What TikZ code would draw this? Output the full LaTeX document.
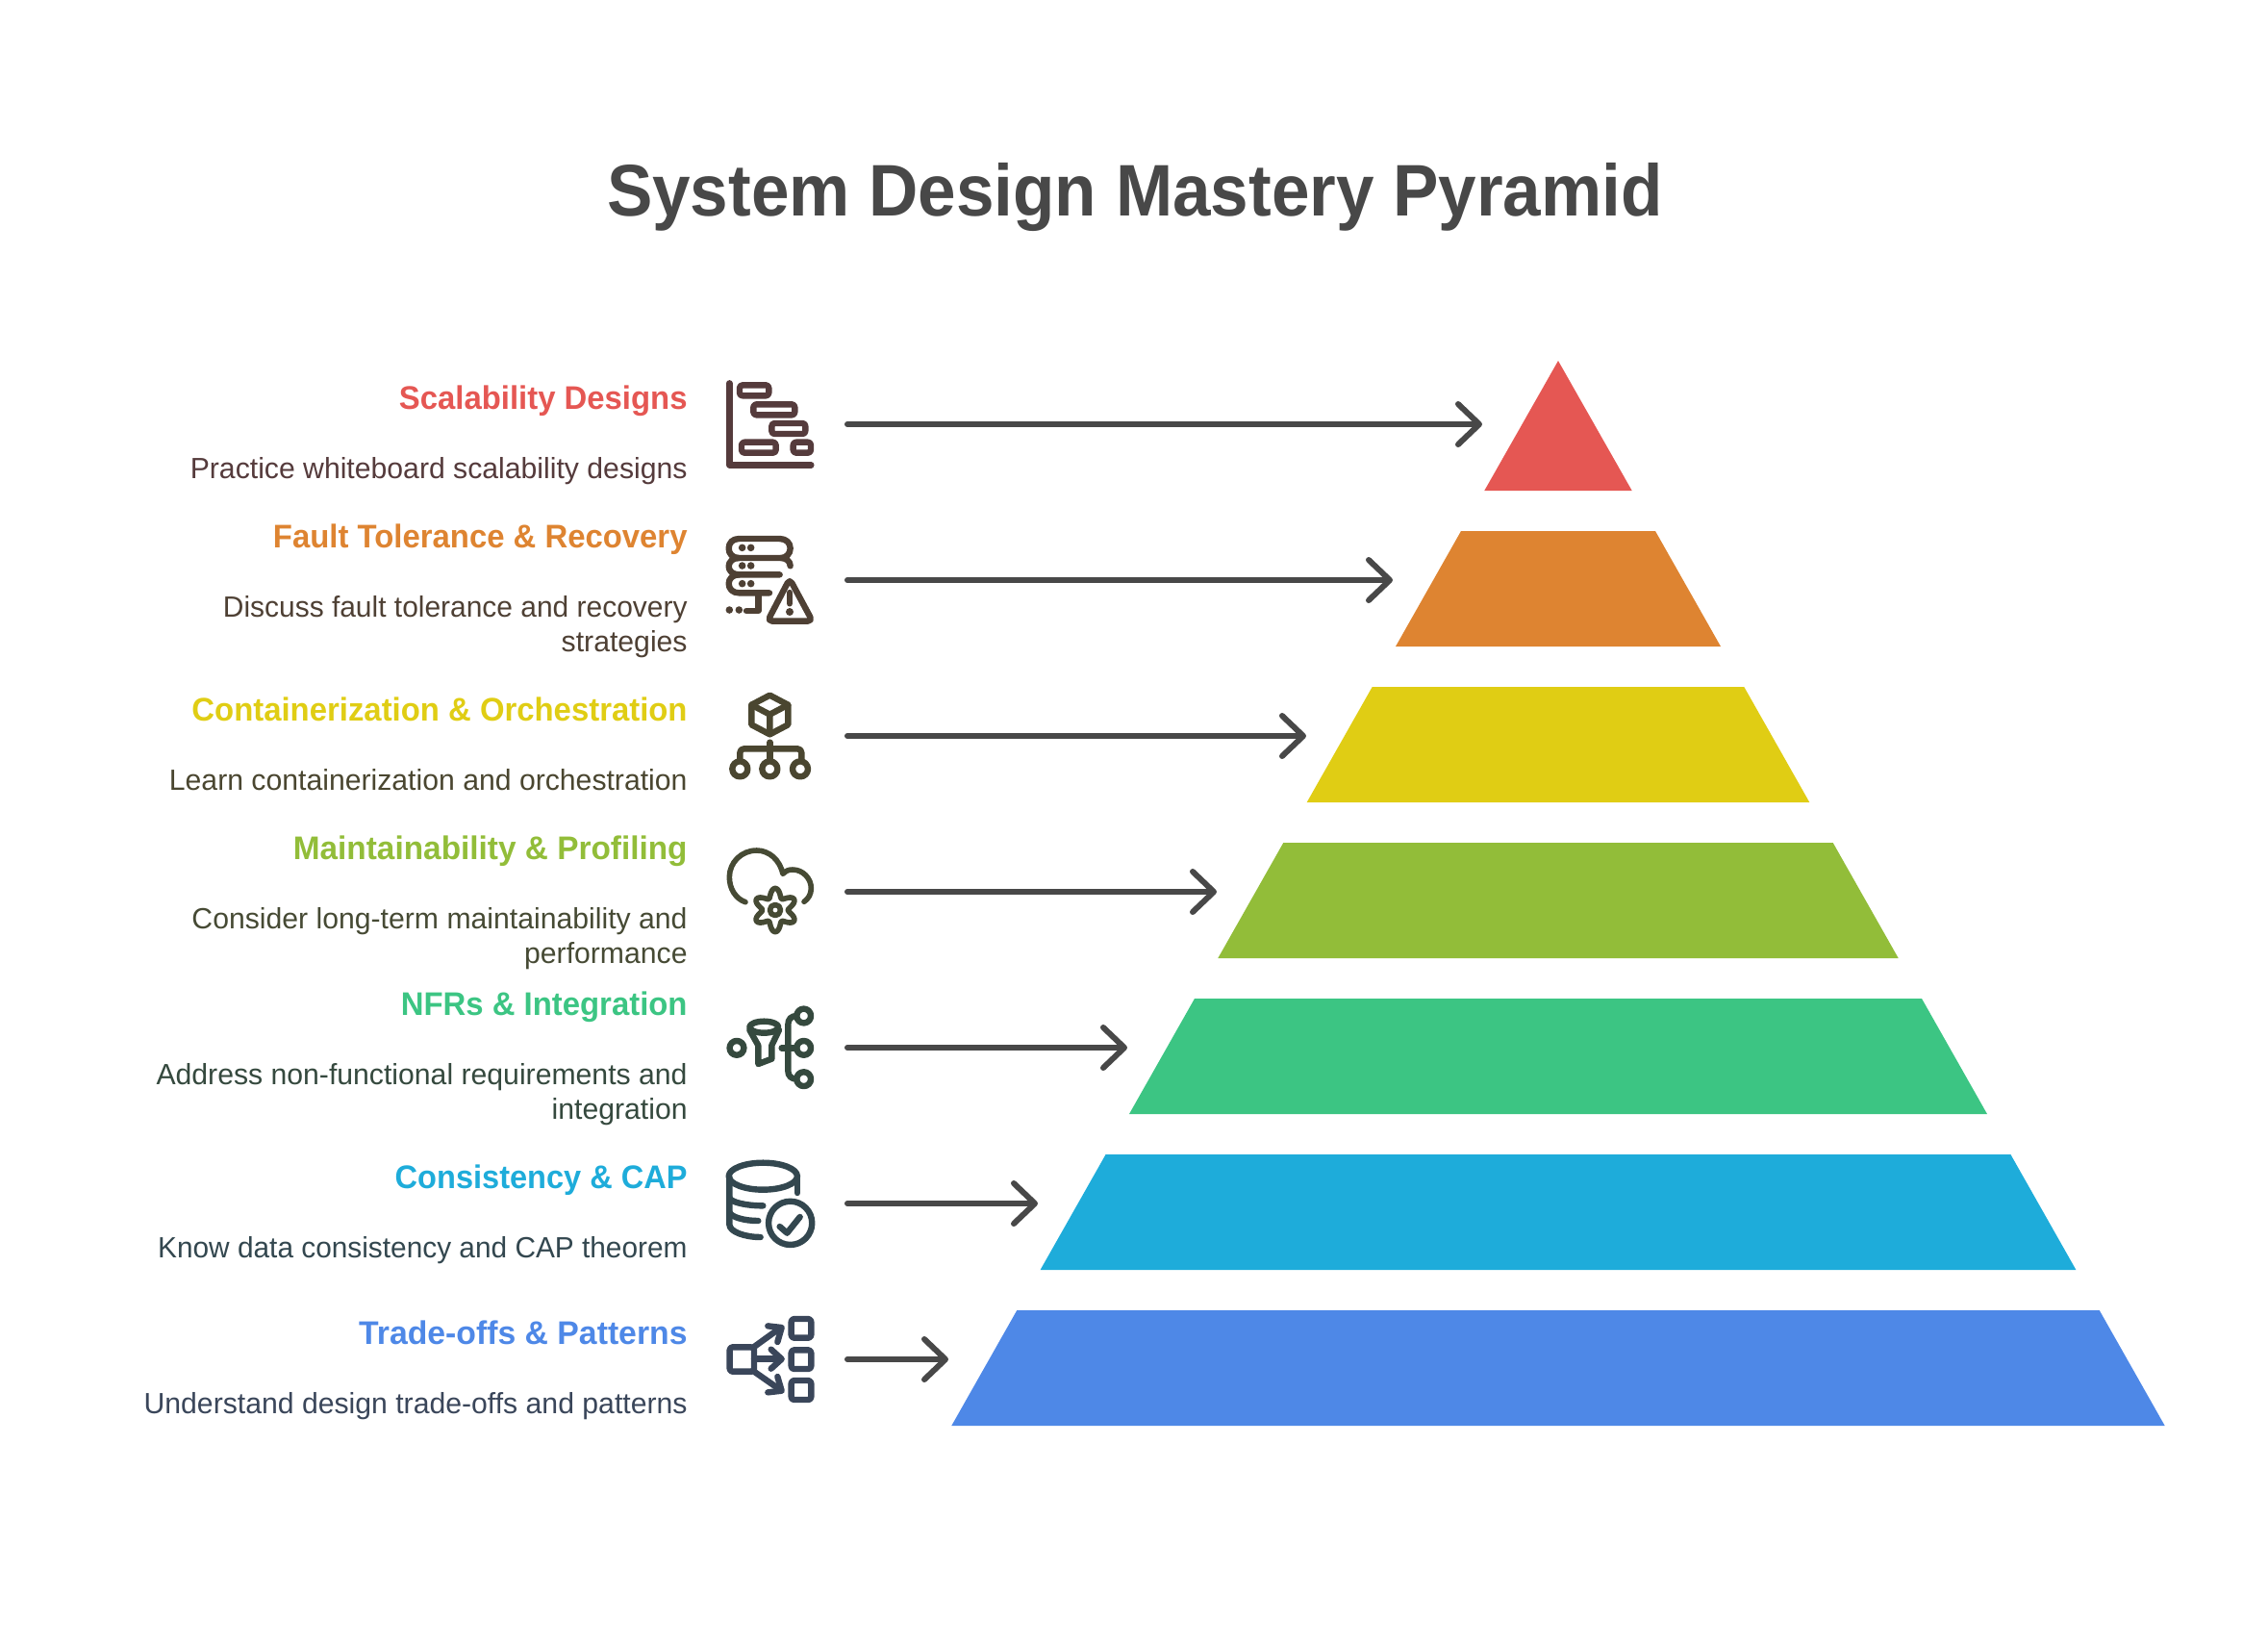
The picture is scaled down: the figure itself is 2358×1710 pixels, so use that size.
\documentclass[tikz,border=0pt]{standalone}
\usepackage{fontspec}
\setmainfont{Liberation Sans}
\newfontfamily\bodyface[FakeStretch=0.993]{Liberation Sans}
\newfontfamily\headface[FakeStretch=0.967,BoldFont={Liberation Sans Bold}]{Liberation Sans}
\newfontfamily\titleface[FakeStretch=0.935,BoldFont={Liberation Sans Bold}]{Liberation Sans}
\usetikzlibrary{arrows.meta}
\definecolor{cTitle}{HTML}{484848}
\definecolor{cRed}{HTML}{E55753}
\definecolor{cOrange}{HTML}{DE8431}
\definecolor{cYellow}{HTML}{E0CD14}
\definecolor{cGreen}{HTML}{92BD39}
\definecolor{cMint}{HTML}{3CC583}
\definecolor{cCyan}{HTML}{1EACDA}
\definecolor{cBlue}{HTML}{4E88E7}
\definecolor{dRed}{HTML}{553B3C}
\definecolor{dOrange}{HTML}{4E4034}
\definecolor{dYellow}{HTML}{4A4630}
\definecolor{dGreen}{HTML}{464A34}
\definecolor{dMint}{HTML}{35493E}
\definecolor{dCyan}{HTML}{33474F}
\definecolor{dBlue}{HTML}{3A465A}
\tikzset{
  x=0.5pt,y=-0.5pt,
  titlelabel/.style={font=\titleface\bfseries\fontsize{38}{46}\selectfont,text=cTitle,anchor=base,inner sep=0},
  headlabel/.style={font=\headface\bfseries\fontsize{17}{20}\selectfont,anchor=base east,inner sep=0},
  bodylabel/.style={font=\bodyface\fontsize{15.2}{18}\selectfont,anchor=base east,inner sep=0,align=right},
  pointer/.style={draw=cTitle,line width=3pt,line cap=round,-{Straight Barb[length=11pt,width=21pt,line width=3pt,round]}},
  iconzoomA/.style={shift={(740,380)},x=0.16667pt,y=-0.16667pt},
  iconzoomB/.style={shift={(740,700)},x=0.16667pt,y=-0.16667pt},
  iconzoomC/.style={shift={(740,1030)},x=0.16667pt,y=-0.16667pt},
  ico/.style={line width=3.2pt,line cap=round,line join=round,fill=none},
}
\begin{document}
\begin{tikzpicture}
\useasboundingbox (0,0) rectangle (2358,1710);
\node[titlelabel] (title) at (1180,224) {System Design Mastery Pyramid};
% pyramid
\fill[cRed] (1620,375) -- (1696.7,510) -- (1543.3,510) -- cycle;
\foreach \nm/\c/\ty/\hw in {o/cOrange/552/169,y/cYellow/714/261.3,g/cGreen/876/353.7,m/cMint/1038/446,c/cCyan/1200/538.4,b/cBlue/1362/630.7}{
  \fill[\c] ({1620-\hw+68},\ty) -- ({1620+\hw-68},\ty) -- ({1620+\hw},{\ty+120}) -- ({1620-\hw},{\ty+120}) -- cycle;
}
% pointers
\foreach \i/\yy/\tx in {1/441/1541,2/603/1448,3/765/1358,4/927/1265,5/1089/1172,6/1251/1079,7/1413/986}{
  \coordinate (from\i) at (881,\yy);
  \coordinate (tip\i) at (\tx,\yy);
  \draw[pointer] (from\i) -- (tip\i);
}
% labels
\node[headlabel,text=cRed] (h1) at (715,425) {Scalability Designs};
\node[bodylabel,text=dRed] (b1) at (715,497) {Practice whiteboard scalability designs};
\node[headlabel,text=cOrange] (h2) at (715,569) {Fault Tolerance \& Recovery};
\node[bodylabel,text=dOrange] (b2) at (715,677) {\scalebox{0.992}[1]{Discuss fault tolerance and recovery}\\strategies};
\node[headlabel,text=cYellow] (h3) at (715,749) {Containerization \& Orchestration};
\node[bodylabel,text=dYellow] (b3) at (715,821) {Learn containerization and orchestration};
\node[headlabel,text=cGreen] (h4) at (715,893) {\scalebox{1.015}[1]{Maintainability \& Profiling}};
\node[bodylabel,text=dGreen] (b4) at (715,1001) {Consider long-term maintainability and\\performance};
\node[headlabel,text=cMint] (h5) at (715,1055) {NFRs \& Integration};
\node[bodylabel,text=dMint] (b5) at (715,1163) {Address non-functional requirements and\\integration};
\node[headlabel,text=cCyan] (h6) at (715,1235) {\scalebox{0.99}[1]{Consistency \& CAP}};
\node[bodylabel,text=dCyan] (b6) at (715,1307) {\scalebox{0.988}[1]{Know data consistency and CAP theorem}};
\node[headlabel,text=cBlue] (h7) at (715,1397) {\scalebox{1.027}[1]{Trade-offs \& Patterns}};
\node[bodylabel,text=dBlue] (b7) at (715,1469) {Understand design trade-offs and patterns};
% icon 1
\begin{scope}[iconzoomA,ico,draw=dRed]
  \draw (55,55) -- (55,310) -- (310,310);
  \foreach \a/\b/\cc/\d in {87/61/178/94,130/121/259/154,187/180/292/213,93/239/200/272,254/239/309/272}{
    \draw[rounded corners=1.5pt] (\a,\b) rectangle (\cc,\d);
  }
\end{scope}
% icon 2
\begin{scope}[iconzoomA,ico,draw=dOrange]
  \draw (245,625) .. controls (245,610) and (232,600) .. (215,600) -- (85,600) .. controls (65,600) and (53,587) .. (53,570) .. controls (53,553) and (65,540) .. (85,540) -- (212,540) .. controls (232,540) and (245,553) .. (245,570) .. controls (245,587) and (232,600) .. (215,600);
  \draw (85,600) .. controls (65,600) and (53,612) .. (53,626) .. controls (53,640) and (65,652) .. (85,652) -- (212,652);
  \draw (85,652) .. controls (65,652) and (53,665) .. (53,680) .. controls (53,696) and (65,709) .. (85,709) -- (180,709);
  \draw (145,709) -- (145,765) -- (108,765);
  \fill[dOrange] (95,568) circle[radius=1.9pt] (122,568) circle[radius=1.9pt] (95,624) circle[radius=1.9pt] (122,624) circle[radius=1.9pt] (95,680) circle[radius=1.9pt] (122,680) circle[radius=1.9pt] (55,762) circle[radius=1.9pt] (85,762) circle[radius=1.9pt];
  \draw[rounded corners=2.5pt] (243,665) -- (314,797) -- (174,797) -- cycle;
  \draw (243,708) -- (243,742);
  \fill[dOrange] (243,768) circle[radius=2pt];
\end{scope}
% icon 3
\begin{scope}[iconzoomB,ico,draw=dYellow]
  \draw (181,68) -- (238,98) -- (238,160) -- (181,190) -- (124,160) -- (124,98) -- cycle;
  \draw (124,98) -- (181,128) -- (238,98) (181,128) -- (181,190);
  \draw (181,215) -- (181,272);
  \draw[rounded corners=2pt] (88,272) -- (88,235) -- (280,235) -- (280,272);
  \draw (88,298) circle[radius=4pt] (181,298) circle[radius=4pt] (276,298) circle[radius=4pt];
\end{scope}
% icon 4
\begin{scope}[iconzoomB,ico,draw=dGreen,line width=2.8pt]
  \draw (105,713) .. controls (75,703) and (55,672) .. (55,635) .. controls (55,590) and (92,552) .. (140,552) .. controls (180,552) and (212,582) .. (222,625) .. controls (232,615) and (240,612) .. (252,612) .. controls (285,612) and (310,640) .. (310,670) .. controls (310,688) and (302,702) .. (288,712);
  \draw plot[domain=0:360,samples=73,smooth] ({198+(54+14*cos(6*(\x-90)))*cos(\x)},{738+(54+14*cos(6*(\x-90)))*sin(\x)});
  \draw (198,738) circle[radius=2.8pt];
\end{scope}
% icon 5
\begin{scope}[iconzoomC,ico,draw=dMint]
  \draw (78,178) circle[radius=3.7pt];
  \draw (163,113) ellipse[x radius=7.5pt,y radius=3pt];
  \draw (118,122) -- (145,170) -- (145,228) -- (187,212) -- (187,170) -- (210,122);
  \draw (265,78) .. controls (248,78) and (238,88) .. (238,105) -- (238,250) .. controls (238,265) and (248,275) .. (265,275);
  \draw (218,178) -- (265,178);
  \draw (287,78) circle[radius=3.7pt] (287,178) circle[radius=3.7pt] (287,275) circle[radius=3.7pt];
\end{scope}
% icon 6
\begin{scope}[iconzoomC,ico,draw=dCyan]
  \draw (160,578) ellipse[x radius=17.8pt,y radius=7pt];
  \draw (267,580) -- (267,630);
  \draw (55,580) -- (55,728) .. controls (55,752) and (105,768) .. (152,768);
  \draw (55,645) .. controls (60,660) and (110,670) .. (160,670);
  \draw (55,690) .. controls (60,705) and (100,717) .. (145,717);
  \draw (245,724) circle[radius=11.3pt];
  \draw (212,735) -- (235,755) -- (275,705);
\end{scope}
% icon 7
\begin{scope}[iconzoomC,ico,draw=dBlue]
  \draw[rounded corners=1.5pt] (248,1023) rectangle (310,1082);
  \draw[rounded corners=1.5pt] (248,1120) rectangle (310,1179);
  \draw[rounded corners=1.5pt] (248,1215) rectangle (310,1275);
  \draw[rounded corners=1.5pt] (56,1111) rectangle (132,1187);
  \draw (132,1110) -- (215,1050);
  \draw (175,1045) -- (218,1050) -- (205,1095);
  \draw (132,1148) -- (215,1148);
  \draw (185,1118) -- (218,1148) -- (185,1178);
  \draw (132,1187) -- (215,1245);
  \draw (205,1203) -- (218,1247) -- (175,1252);
\end{scope}
\end{tikzpicture}
\end{document}
